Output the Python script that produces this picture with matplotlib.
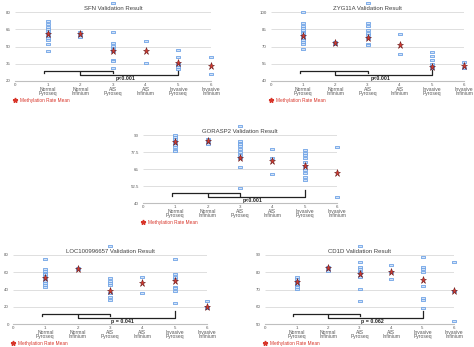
"""
Validation results for five methylation markers, one scatter panel per gene.
"""

import matplotlib

matplotlib.use("Agg")

import matplotlib.pyplot as plt  # noqa: E402

plt.rcParams["font.family"] = ["Liberation Sans", "DejaVu Sans"]

categories = ["Normal\nPyroseq", "Normal\nInfinium", "AIS\nPyroseq",
              "AIS\nInfinium", "Invasive\nPyroseq", "Invasive\nInfinium"]

# methylation rate per sample, one list per category
sfn_points = [
    [72.1, 69.5, 67.2, 65.4, 63.7, 61.4, 59.3, 57.6, 55.5, 52.3, 45.9],
    [62.8, 59.9, 58.4],
    [88.0, 62.8, 53.2, 50.3, 48.2, 45.9, 38.6, 37.2, 31.6],
    [55.0, 36.0],
    [46.8, 41.0, 35.1, 33.7, 32.2, 30.8],
    [41.0, 25.8],
]
sfn_means = [60.8, 60.8, 45.9, 45.9, 35.7, 33.1]
sfn_ticks = [20, 35, 50, 65, 80]

zyg_points = [
    [100, 90.1, 87.8, 85.7, 84.3, 82.8, 81.4, 79.9, 78.4, 77.0, 75.5, 74.1, 72.6, 67.7],
    [74.1, 72.6],
    [108, 90.1, 87.8, 84.3, 81.9, 79.9, 77.0, 72.6, 71.2],
    [80.5, 63.9],
    [64.8, 61.6, 58.1, 55.1, 53.1, 51.6],
    [56.6, 51.6],
]
zyg_means = [79.0, 73.2, 77.0, 71.2, 52.2, 52.8]
zyg_ticks = [40, 55, 70, 85, 100]

gorasp_points = [
    [90, 88.5, 87.1, 85.6, 84.2, 82.7, 81.3, 79.3, 77.9],
    [87.1, 85.4, 83.7],
    [96.6, 85.6, 84.4, 83.2, 81.7, 79.8, 77.6, 75.2, 72.8, 66.2, 50.9],
    [79.8, 72.8, 61.1],
    [79.3, 77.1, 75.0, 72.8, 70.3, 67.2, 64.3, 61.8, 59.4, 57.0],
    [81.3, 44.4],
]
gorasp_means = [84.9, 85.4, 72.8, 71.1, 67.2, 61.8]
gorasp_ticks = [40, 52.5, 65, 77.5, 90]

loc_points = [
    [75.4, 63.4, 61.4, 59.5, 57.6, 55.7, 52.9, 50.2, 47.9, 45.2, 42.5],
    [65.3, 63.4],
    [90.8, 52.9, 49.9, 47.1, 45.2, 35.6, 31.7, 27.8],
    [54.1, 36.3],
    [75.4, 57.6, 54.9, 52.2, 43.3, 41.4, 38.3, 24.7],
    [26.7, 20.1, 18.6],
]
loc_means = [52.9, 64.2, 38.3, 47.1, 50.2, 20.1]
loc_ticks = [0, 20, 40, 60, 80]

cd1d_points = [
    [77.1, 76.1, 75.1, 74.2, 73.2, 72.2, 71.3, 70.3],
    [83.2, 82.3, 80.9],
    [95.4, 86.1, 83.2, 81.9, 80.3, 79.4, 77.4, 70.1, 63.3],
    [84.2, 80.3, 76.1],
    [89.0, 83.2, 81.7, 80.3, 72.0, 64.9, 63.9, 59.1],
    [86.1, 69.1, 51.9],
]
cd1d_means = [74.2, 82.3, 78.8, 80.3, 75.5, 69.1]
cd1d_ticks = [50, 60, 70, 80, 90]

FIG_W, FIG_H = 474, 347
BLUE_FACE = "#d3e3f8"
BLUE_EDGE = "#6fa3e6"
RED = "#d8352a"
TEXT = "#595959"

# flat rectangle used for the sample markers
FLAT_BOX = [(-1.5, -0.9), (1.5, -0.9), (1.5, 0.9), (-1.5, 0.9), (-1.5, -0.9)]


def px_rect(x0, x6, ytop, ybot):
    # pixel box (origin top-left) -> figure fraction rect
    return [x0 / FIG_W, 1 - ybot / FIG_H, (x6 - x0) / FIG_W, (ybot - ytop) / FIG_H]


def draw_panel(fig, rect, title, points, means, ticks, p_text):
    ax = fig.add_axes(rect)
    ax.set_xlim(0, 6)
    ax.set_ylim(ticks[0], ticks[-1])

    for t in ticks[1:]:
        ax.hlines(t, 0, 6, color="#d9d9d9", lw=0.6, zorder=0)
    for side in ("top", "right", "left"):
        ax.spines[side].set_visible(False)
    ax.spines["bottom"].set_color("#bfbfbf")
    ax.spines["bottom"].set_linewidth(0.8)

    ax.set_yticks(ticks)
    ax.set_yticklabels([f"{t:g}" for t in ticks])
    ax.set_xticks(range(7))
    ax.tick_params(axis="both", length=0, labelsize=3.2, colors=TEXT, pad=1.2)
    ax.tick_params(axis="y", pad=3)

    for i, label in enumerate(categories, start=1):
        ax.annotate(label, (i, 0), xycoords=("data", "axes fraction"),
                    xytext=(0, -4.2), textcoords="offset points",
                    ha="center", va="top", fontsize=3.6, color=TEXT,
                    linespacing=0.9, annotation_clip=False)

    for i, vals in enumerate(points, start=1):
        ax.plot([i] * len(vals), vals, ls="none", marker=FLAT_BOX, ms=3.4,
                mfc=BLUE_FACE, mec=BLUE_EDGE, mew=0.6, clip_on=False, zorder=3)
    ax.plot(range(1, 7), means, ls="none", marker="*", ms=5.2, mfc=RED,
            mec="#6b1d1d", mew=0.4, clip_on=False, zorder=4)

    # comparison brackets with the p-value
    tr = ax.get_xaxis_transform()
    y1, y2 = 0.14, 0.09
    ax.plot([0.9, 0.9, 3.0, 3.0], [y1 - 0.03, y1, y1, y1 - 0.03],
            color="#222222", lw=0.9, transform=tr, clip_on=False)
    ax.plot([2.0, 2.0, 5.0, 5.0], [y2 + 0.04, y2, y2, y2 + 0.1],
            color="#222222", lw=0.9, transform=tr, clip_on=False)
    ax.text(3.4, 0.035, p_text, transform=tr, ha="center", va="center",
            fontsize=3.8, fontweight="bold", color="#222222")

    ax.set_title(title, fontsize=4.3, color="#404040", pad=1.5)

    # legend entry for the mean marker
    ax.plot([0.0], [-0.28], ls="none", marker="*", ms=3.5, mfc=RED,
            mec=RED, transform=ax.transAxes, clip_on=False)
    ax.text(0.025, -0.28, "Methylation Rate Mean", transform=ax.transAxes,
            ha="left", va="center", fontsize=3.4, color=RED)
    return ax


fig = plt.figure(figsize=(FIG_W / 100, FIG_H / 100), dpi=100)

draw_panel(fig, px_rect(15, 211, 12, 81), "SFN Validation Result",
           sfn_points, sfn_means, sfn_ticks, "p<0.001")
draw_panel(fig, px_rect(271, 464, 12, 81), "ZYG11A Validation Result",
           zyg_points, zyg_means, zyg_ticks, "p<0.001")
draw_panel(fig, px_rect(143, 337, 135, 203), "GORASP2 Validation Result",
           gorasp_points, gorasp_means, gorasp_ticks, "p<0.001")
draw_panel(fig, px_rect(13, 207, 255, 324), "LOC100996657 Validation Result",
           loc_points, loc_means, loc_ticks, "p = 0.041")
draw_panel(fig, px_rect(265, 454, 255, 324), "CD1D Validation Result",
           cd1d_points, cd1d_means, cd1d_ticks, "p = 0.062")

fig.savefig("out.png", dpi=100)
plt.close(fig)
